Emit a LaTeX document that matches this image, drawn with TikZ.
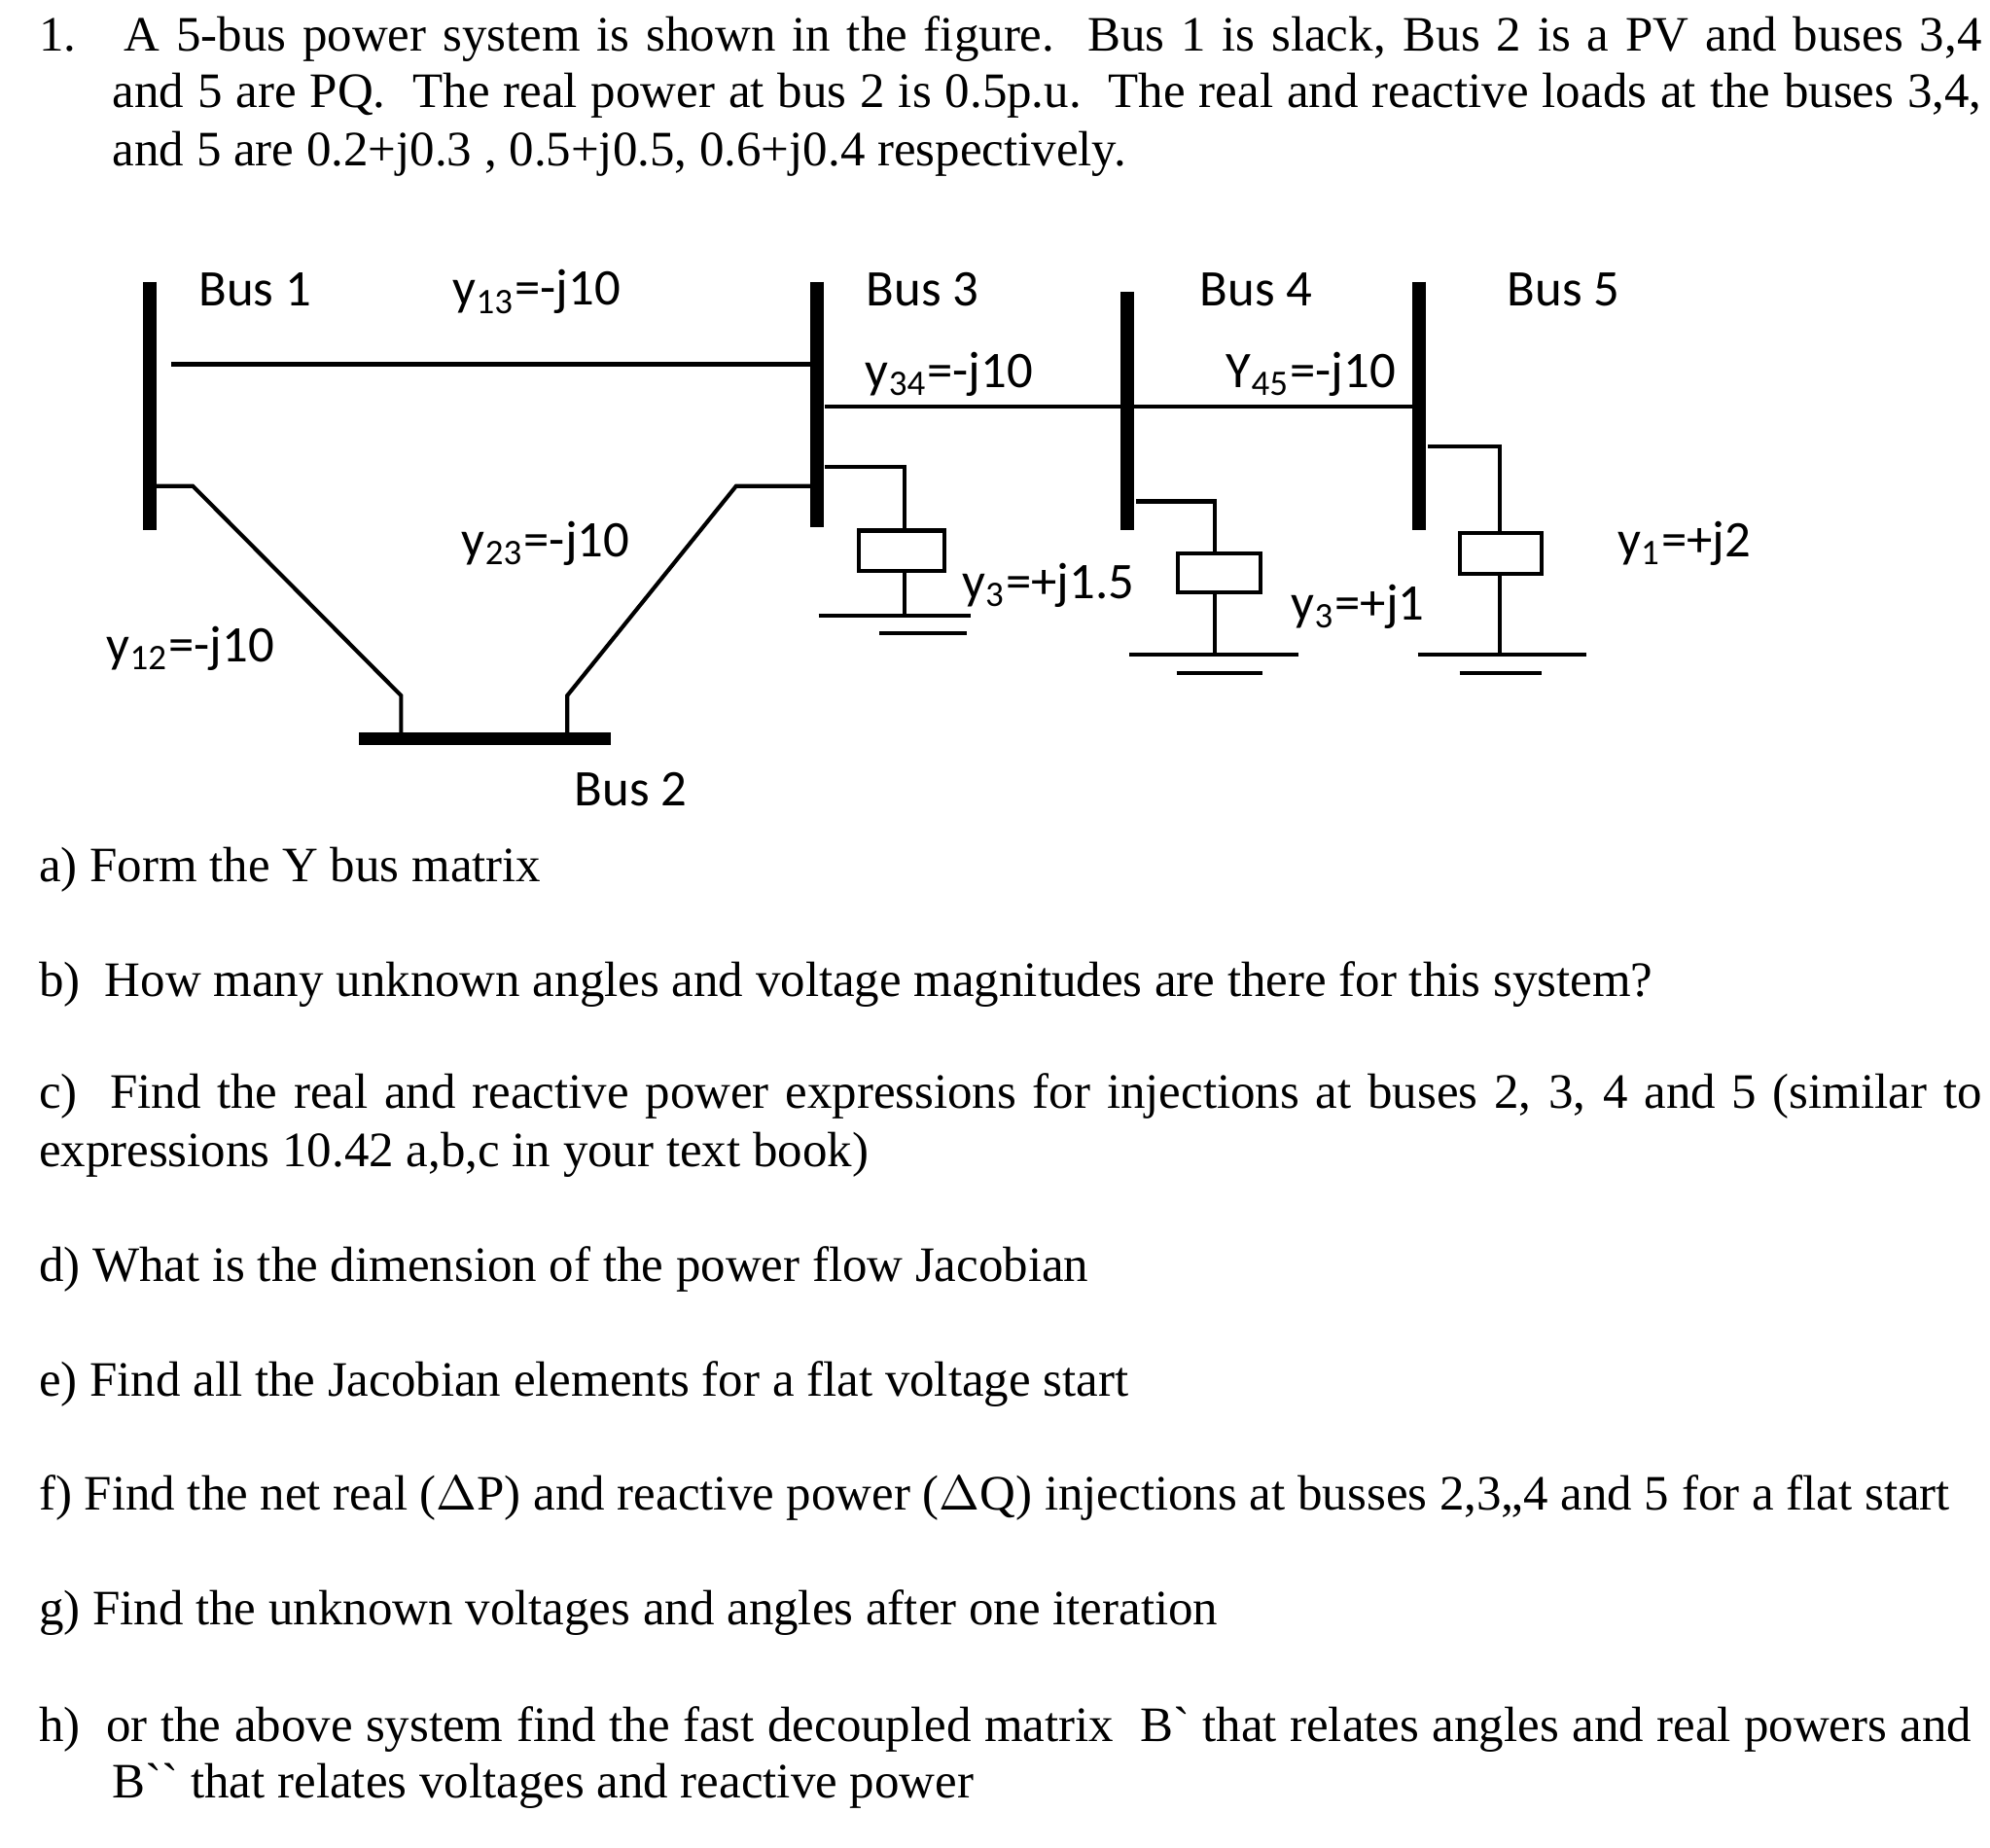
\documentclass[tikz,border=0pt]{standalone}
\usepackage{fontspec}
\setmainfont{Liberation Serif}
\newfontfamily\lab{Carlito}
\newfontfamily\rawf{Liberation Serif}[Ligatures=ResetAll]
\newcommand{\jl}[2]{\hbox to #1{#2}}
\newcommand{\grv}{{\rawf\char"60}}
\begin{document}
\begin{tikzpicture}[x=0.01cm,y=-0.01cm,
  bus/.style={line width=3pt},
  ln/.style={line width=0.9pt},
  lb/.style={font=\lab\fontsize{11.5}{13}\selectfont, inner sep=0pt},
  tx/.style={font=\fontsize{11.1}{13}\selectfont, anchor=base west, inner sep=0pt}]
\useasboundingbox (0,0) rectangle (1568,1456);
% text
\node[tx] (t1) at (30,40) {1.};
\node[tx] (t2) at (97,40) {\jl{14.63cm}{A 5-bus power system is shown in the figure.\ \ Bus 1 is slack, Bus 2 is a PV and buses 3,4}};
\node[tx] (t3) at (88,85) {\jl{14.72cm}{and 5 are PQ.\ \ The real power at bus 2 is 0.5p.u.\ \ The real and reactive loads at the buses 3,4,}};
\node[tx] (t4) at (88,131) {and 5 are 0.2+j0.3 , 0.5+j0.5, 0.6+j0.4 respectively.};
% diagram
\draw[bus] (118,222) -- (118,418);
\draw[bus] (644,222) -- (644,415);
\draw[bus] (888,230) -- (888,418);
\draw[bus] (1118,222) -- (1118,418);
\draw[bus] (283,582) -- (481,582);
\draw[ln] (135,287) -- (640,287);
\draw[ln] (650,320) -- (1113,320);
\draw[ln] (123,383) -- (152,383) -- (316,548) -- (316,578);
\draw[ln] (447,578) -- (447,548) -- (580,383) -- (640,383);
% shunts
\draw[ln] (650,368) -- (713,368) -- (713,418);
\draw[ln] (677,418) rectangle (744,450);
\draw[ln] (713,450) -- (713,485);
\draw[ln] (645,485) -- (765,485);
\draw[ln] (693,499) -- (762,499);
\draw[ln] (895,395) -- (957,395) -- (957,436);
\draw[ln] (928,436) rectangle (993,467);
\draw[ln] (957,467) -- (957,516);
\draw[ln] (890,516) -- (1023,516);
\draw[ln] (927,530) -- (995,530);
\draw[ln] (1125,352) -- (1182,352) -- (1182,420);
\draw[ln] (1150,420) rectangle (1215,452);
\draw[ln] (1182,452) -- (1182,516);
\draw[ln] (1117,516) -- (1250,516);
\draw[ln] (1150,530) -- (1215,530);
% labels
\node[lb] (b1) at (201,228) {Bus 1};
\node[lb] (b3) at (727,228) {Bus 3};
\node[lb] (b4) at (990,228) {Bus 4};
\node[lb] (b5) at (1232,228) {Bus 5};
\node[lb] (b2) at (497,622) {Bus 2};
\node[lb] (l13) at (423,230) {y\textsubscript{13}=-j10};
\node[lb] (l34) at (748,295) {y\textsubscript{34}=-j10};
\node[lb] (l45) at (1033,295) {Y\textsubscript{45}=-j10};
\node[lb] (l23) at (430,428) {y\textsubscript{23}=-j10};
\node[lb] (l12) at (150,511) {y\textsubscript{12}=-j10};
\node[lb] (s3) at (826,461) {y\textsubscript{3}=+j1.5};
\node[lb] (s4) at (1070,478) {y\textsubscript{3}=+j1};
\node[lb] (s5) at (1327,428) {y\textsubscript{1}=+j2};
% questions
\node[tx] (qa) at (30,695) {a) Form the Y bus matrix};
\node[tx] (qb) at (30,785) {b)\ \ How many unknown angles and voltage magnitudes are there for this system?};
\node[tx] (qc) at (30,873) {\jl{15.30cm}{c)\ \ Find the real and reactive power expressions for injections at buses 2, 3, 4 and 5 (similar to}};
\node[tx] (qc2) at (30,919) {expressions 10.42 a,b,c in your text book)};
\node[tx] (qd) at (30,1010) {d) What is the dimension of the power flow Jacobian};
\node[tx] (qe) at (30,1100) {e) Find all the Jacobian elements for a flat voltage start};
\node[tx] (qf) at (30,1190) {f) Find the net real ($\Delta$P) and reactive power ($\Delta$Q) injections at busses 2,3,,4 and 5 for a flat start};
\node[tx] (qg) at (30,1280) {g) Find the unknown voltages and angles after one iteration};
\node[tx] (qh) at (30,1372) {\jl{15.22cm}{h)\ \ or the above system find the fast decoupled matrix\ \ B\grv{} that relates angles and real powers and}};
\node[tx] (qh2) at (88,1417) {B\grv\grv{} that relates voltages and reactive power};
\end{tikzpicture}
\end{document}
